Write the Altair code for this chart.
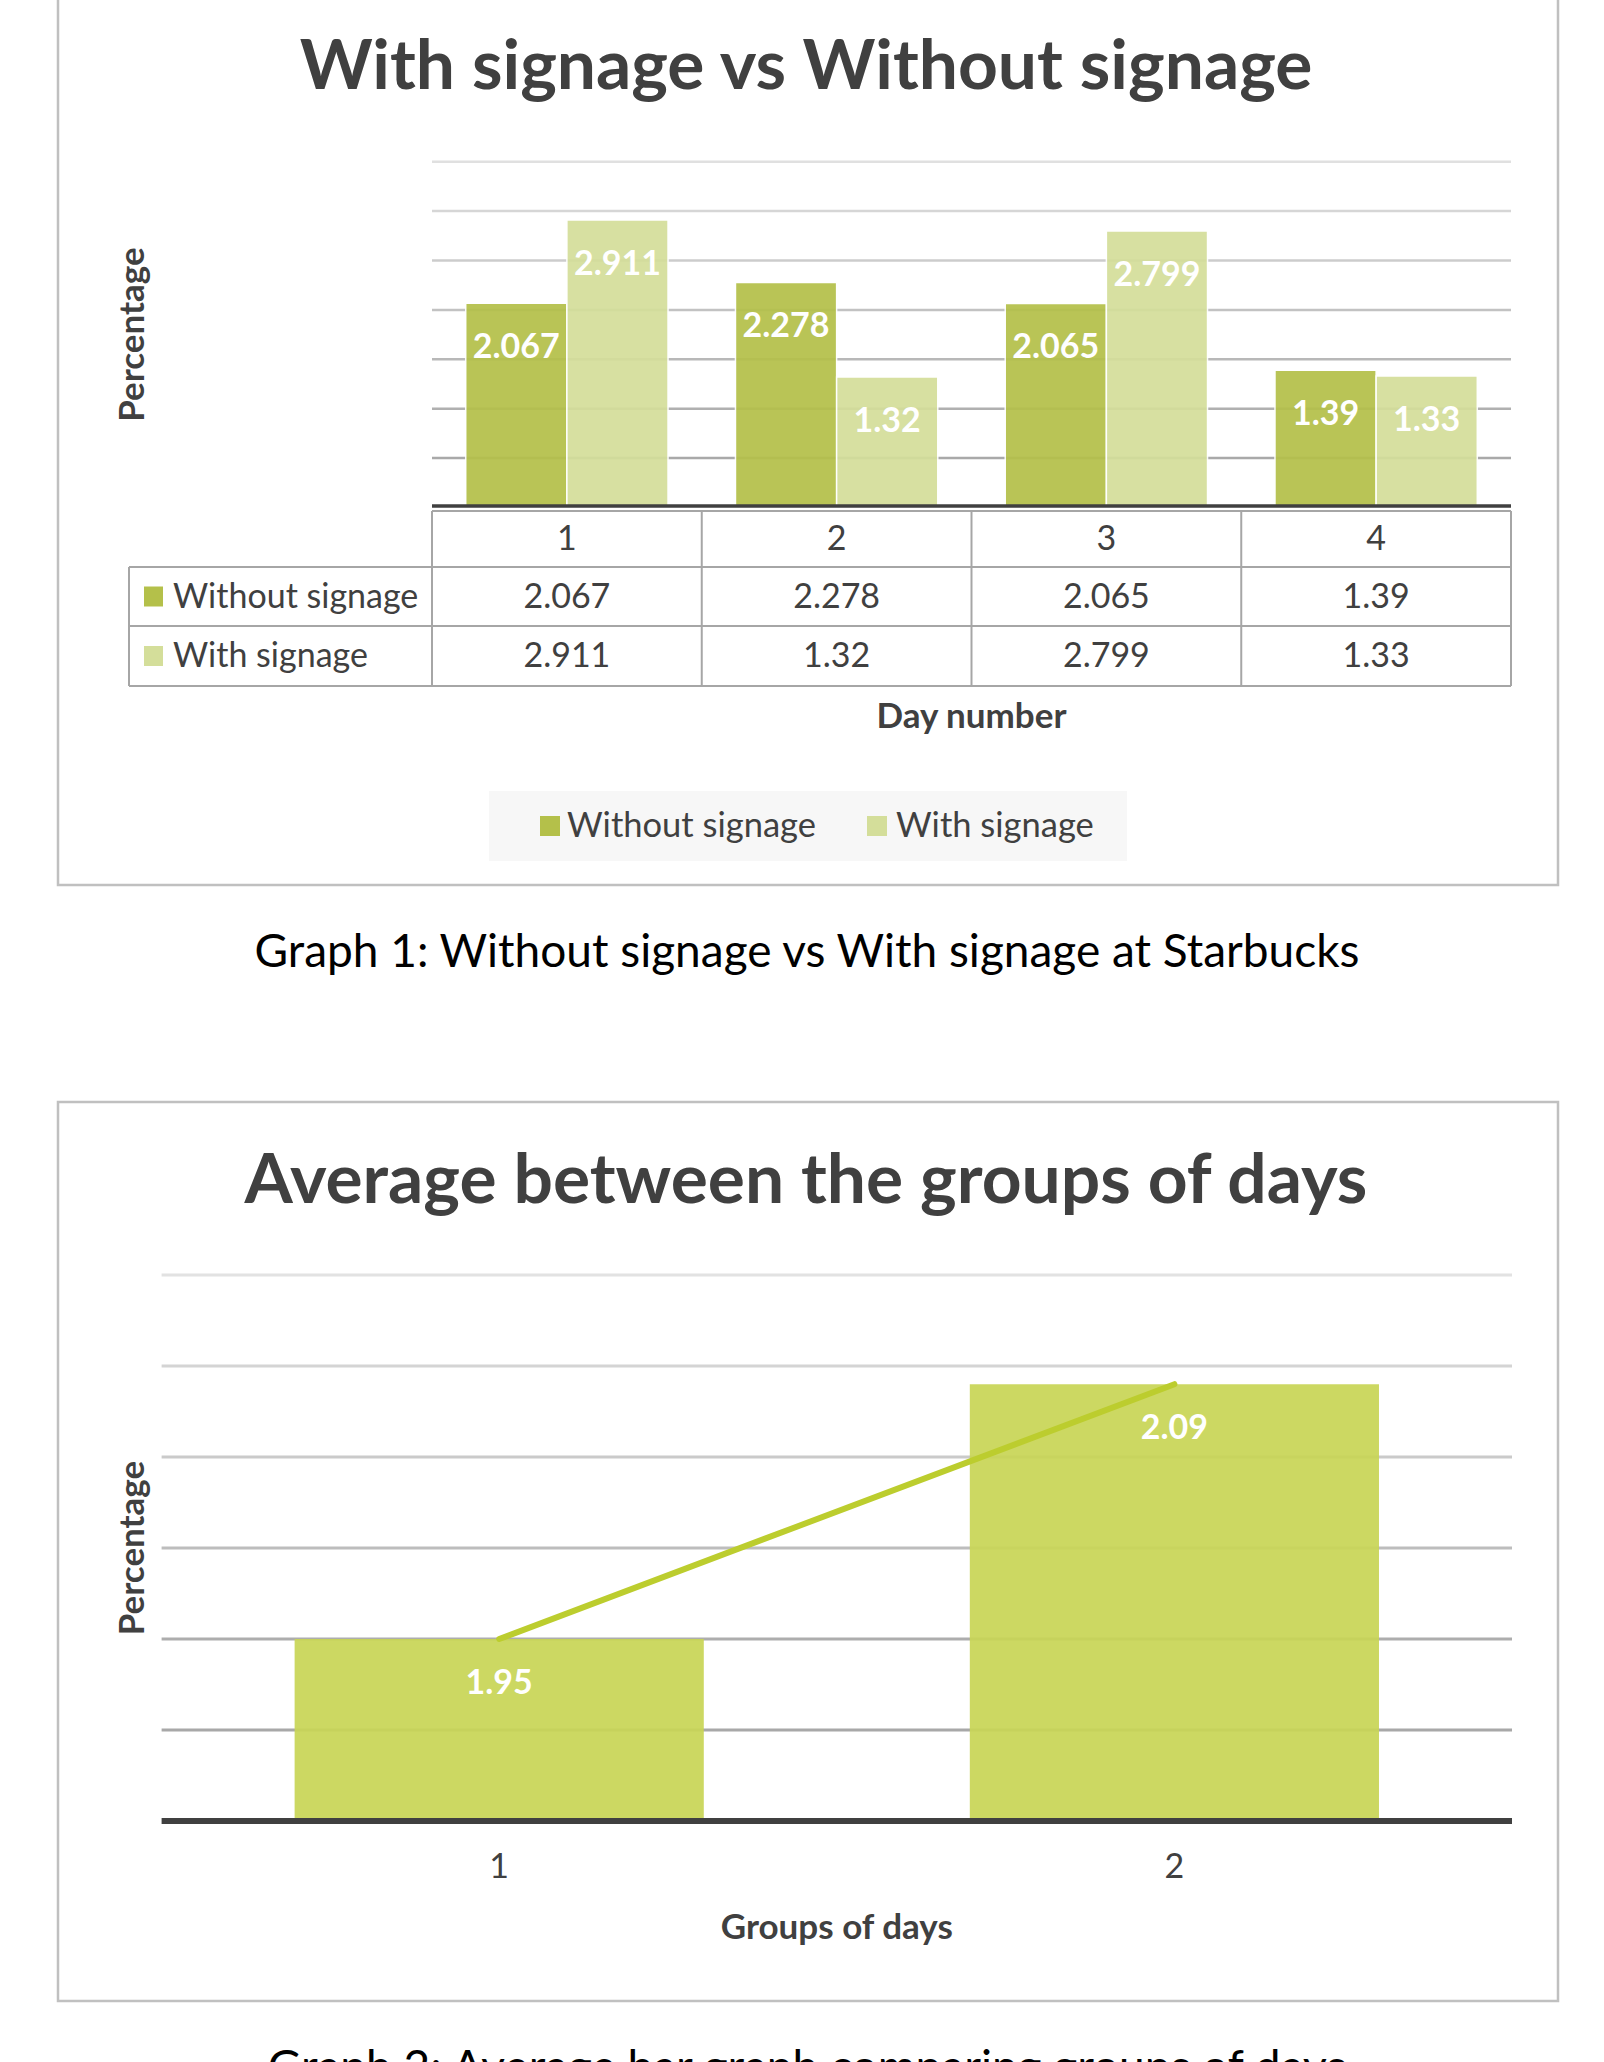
import altair as alt
import pandas as pd

# ---------------- data ----------------
days = ["1", "2", "3", "4"]
series = ["Without signage", "With signage"]
without_vals = [2.067, 2.278, 2.065, 1.39]
with_vals = [2.911, 1.32, 2.799, 1.33]
grid1 = [0.5, 1.0, 1.5, 2.0, 2.5, 3.0, 3.5]

groups = ["1", "2"]
avg_vals = [1.95, 2.09]
grid2 = [1.9, 1.95, 2.0, 2.05, 2.1, 2.15]

title1 = "With signage vs Without signage"
title2 = "Average between the groups of days"
caption1 = "Graph 1: Without signage vs With signage at Starbucks"
caption2 = "Graph 2: Average bar graph comparing groups of days"
ytitle = "Percentage"
xtitle1 = "Day number"
xtitle2 = "Groups of days"

# ---------------- styles ----------------
FONT = "Lato"
DARK = "#404040"
C_WITHOUT = "#b4c04a"
C_WITH = "#d4de9a"
C_AVG = "#c8d556"
C_LINE = "#bccd2e"
GRID_COL1 = ["#a9a9a9", "#b0b0b0", "#b8b8b8", "#c2c2c2", "#cccccc", "#d6d6d6", "#e0e0e0"]
GRID_COL2 = ["#a8a8a8", "#adadad", "#bdbdbd", "#cacaca", "#d4d4d4", "#e2e2e2"]
TABLE_LINE = "#a6a6a6"

TITLE_SIZE = 69.5
CAPTION_SIZE = 46
TABLE_SIZE = 34
LEGEND_SIZE = 34.5
AXTITLE_SIZE = 35
LABEL_SIZE = 34

# chart 1 geometry
P1L, P1R = 432, 1511
P1B, P1T = 507.5, 161.7
# chart 2 geometry
P2L, P2R = 161.6, 1512
P2B, P2T = 1821, 1275

x1 = alt.Scale(type="band", domain=days, range=[P1L, P1R], paddingInner=0.25, paddingOuter=0.125)
xo1 = alt.Scale(type="band", domain=series, paddingInner=0, paddingOuter=0)
xo1_text = alt.Scale(type="point", domain=series, padding=0.5)
y1 = alt.Scale(domain=[0, 3.5], range=[P1B, P1T], nice=False, zero=False)
c1 = alt.Scale(domain=series, range=[C_WITHOUT, C_WITH])

x2 = alt.Scale(type="band", domain=groups, range=[P2L, P2R], paddingInner=0.394, paddingOuter=0.197)
y2 = alt.Scale(domain=[1.85, 2.15], range=[P2B, P2T], nice=False, zero=False)


def one():
    return alt.Chart(pd.DataFrame({"k": [0]}))


def text_at(txt, x, y, **kw):
    return one().mark_text(text=txt, font=FONT, **kw).encode(x=alt.value(x), y=alt.value(y))


def hline(y, xa, xb, color, w):
    return one().mark_rule(color=color, strokeWidth=w).encode(
        x=alt.value(xa), x2=alt.value(xb), y=alt.value(y))


def vline(x, ya, yb, color, w):
    return one().mark_rule(color=color, strokeWidth=w).encode(
        x=alt.value(x), y=alt.value(ya), y2=alt.value(yb))


def box(xa, xb, ya, yb, **kw):
    return one().mark_rect(**kw).encode(
        x=alt.value(xa), x2=alt.value(xb), y=alt.value(ya), y2=alt.value(yb))


layers = []

# ---------------- frames ----------------
layers.append(box(58, 1558, -10, 885, fill="white", fillOpacity=0, stroke="#c0c0c0", strokeWidth=2.5))
layers.append(box(58, 1558, 1102, 2001, fill="white", fillOpacity=0, stroke="#c0c0c0", strokeWidth=2.5))

# ---------------- chart 1 ----------------
layers.append(text_at(title1, 806, 89, fontSize=TITLE_SIZE, fontWeight="bold", color=DARK,
                      align="center", baseline="alphabetic"))
layers.append(text_at(ytitle, 133, (P1B + P1T) / 2, fontSize=AXTITLE_SIZE, fontWeight="bold", color=DARK,
                      align="center", baseline="middle", angle=270))

g1 = pd.DataFrame({"g": grid1})
layers.append(alt.Chart(g1).mark_rule(strokeWidth=2.5).encode(
    y=alt.Y("g:Q", scale=y1, axis=None),
    x=alt.value(P1L), x2=alt.value(P1R),
    color=alt.Color("g:O", scale=alt.Scale(domain=grid1, range=GRID_COL1), legend=None)))

bars1 = pd.DataFrame({
    "day": days * 2,
    "series": [series[0]] * 4 + [series[1]] * 4,
    "value": without_vals + with_vals,
})
bars1["label"] = [f"{v:g}" for v in bars1["value"]]

layers.append(alt.Chart(bars1).mark_bar(opacity=0.93, stroke="white", strokeWidth=1.5, strokeOpacity=1).encode(
    x=alt.X("day:N", scale=x1, axis=None),
    xOffset=alt.XOffset("series:N", scale=xo1),
    y=alt.Y("value:Q", scale=y1, axis=None),
    y2=alt.datum(0),
    color=alt.Color("series:N", scale=c1, legend=None)))

layers.append(alt.Chart(bars1).mark_text(font=FONT, fontSize=LABEL_SIZE, fontWeight="bold", color="white",
                                        baseline="middle", align="center", dy=45).encode(
    x=alt.X("day:N", scale=x1, axis=None),
    xOffset=alt.XOffset("series:N", scale=xo1_text),
    y=alt.Y("value:Q", scale=y1, axis=None),
    text="label:N"))

# baseline
layers.append(hline(P1B - 1.5, P1L, P1R, DARK, 3.5))

# data table
ROW_T, ROW_1, ROW_2, ROW_B = 511, 567, 626, 686
TL = 129
layers.append(hline(ROW_T, P1L, P1R, TABLE_LINE, 2))
for yy in (ROW_1, ROW_2, ROW_B):
    layers.append(hline(yy, TL, P1R, TABLE_LINE, 2))
layers.append(vline(TL, ROW_1, ROW_B, TABLE_LINE, 2))
step = (P1R - P1L) / len(days)
for k in range(len(days) + 1):
    layers.append(vline(P1L + k * step, ROW_T, ROW_B, TABLE_LINE, 2))

hdr = pd.DataFrame({"day": days})
layers.append(alt.Chart(hdr).mark_text(font=FONT, fontSize=TABLE_SIZE, color=DARK, baseline="middle").encode(
    x=alt.X("day:N", scale=x1, axis=None, bandPosition=0.5), y=alt.value((ROW_T + ROW_1) / 2 + 1), text="day:N"))
for s_name, vals, (ya, yb), col in ((series[0], without_vals, (ROW_1, ROW_2), C_WITHOUT),
                                    (series[1], with_vals, (ROW_2, ROW_B), C_WITH)):
    d = pd.DataFrame({"day": days, "label": [f"{v:g}" for v in vals]})
    yc = (ya + yb) / 2
    layers.append(alt.Chart(d).mark_text(font=FONT, fontSize=TABLE_SIZE, color=DARK, baseline="middle").encode(
        x=alt.X("day:N", scale=x1, axis=None, bandPosition=0.5), y=alt.value(yc + 1), text="label:N"))
    layers.append(box(144, 163, yc - 10, yc + 10, fill=col))
    layers.append(text_at(s_name, 173, yc + 1, fontSize=TABLE_SIZE, color=DARK, align="left", baseline="middle"))

layers.append(text_at(xtitle1, (P1L + P1R) / 2, 717, fontSize=AXTITLE_SIZE, fontWeight="bold", color=DARK,
                      align="center", baseline="middle"))

# legend
layers.append(box(489, 1127, 791, 861, fill="#f7f7f7"))
layers.append(box(540, 560, 816, 836, fill=C_WITHOUT))
layers.append(text_at(series[0], 567, 827, fontSize=LEGEND_SIZE, color=DARK, align="left", baseline="middle"))
layers.append(box(867, 887, 816, 836, fill=C_WITH))
layers.append(text_at(series[1], 896, 827, fontSize=LEGEND_SIZE, color=DARK, align="left", baseline="middle"))

layers.append(text_at(caption1, 807, 967, fontSize=CAPTION_SIZE, color="black", align="center",
                      baseline="alphabetic"))

# ---------------- chart 2 ----------------
layers.append(text_at(title2, 806, 1203, fontSize=TITLE_SIZE, fontWeight="bold", color=DARK,
                      align="center", baseline="alphabetic"))
layers.append(text_at(ytitle, 133, (P2B + P2T) / 2, fontSize=AXTITLE_SIZE, fontWeight="bold", color=DARK,
                      align="center", baseline="middle", angle=270))

g2 = pd.DataFrame({"g": grid2})
layers.append(alt.Chart(g2).mark_rule(strokeWidth=3).encode(
    y=alt.Y("g:Q", scale=y2, axis=None),
    x=alt.value(P2L), x2=alt.value(P2R),
    color=alt.Color("g:O", scale=alt.Scale(domain=grid2, range=GRID_COL2), legend=None)))

avg = pd.DataFrame({"group": groups, "v": avg_vals})
avg["label"] = [f"{v:g}" for v in avg_vals]

layers.append(alt.Chart(avg).mark_bar(color=C_AVG, opacity=0.93).encode(
    x=alt.X("group:N", scale=x2, axis=None),
    y=alt.Y("v:Q", scale=y2, axis=None),
    y2=alt.datum(1.85)))

layers.append(alt.Chart(avg).mark_line(color=C_LINE, strokeWidth=6, strokeCap="round").encode(
    x=alt.X("group:N", scale=x2, axis=None, bandPosition=0.5),
    y=alt.Y("v:Q", scale=y2, axis=None)))

layers.append(alt.Chart(avg).mark_text(font=FONT, fontSize=LABEL_SIZE, fontWeight="bold", color="white",
                                      baseline="middle", dy=45).encode(
    x=alt.X("group:N", scale=x2, axis=None, bandPosition=0.5),
    y=alt.Y("v:Q", scale=y2, axis=None),
    text="label:N"))

layers.append(hline(P2B, P2L, P2R, DARK, 6))

layers.append(alt.Chart(avg).mark_text(font=FONT, fontSize=TABLE_SIZE, color=DARK, baseline="middle").encode(
    x=alt.X("group:N", scale=x2, axis=None, bandPosition=0.5), y=alt.value(1868), text="group:N"))

layers.append(text_at(xtitle2, (P2L + P2R) / 2, 1928, fontSize=AXTITLE_SIZE, fontWeight="bold", color=DARK,
                      align="center", baseline="middle"))

layers.append(text_at(caption2, 807, 2083, fontSize=CAPTION_SIZE, color="black", align="center",
                      baseline="alphabetic"))

chart = alt.layer(*layers).resolve_scale(
    x="independent", y="independent", color="independent", xOffset="independent"
).properties(
    width=1604, height=2062, autosize=alt.AutoSizeParams(type="none"), padding=0, background="white"
).configure_view(stroke=None)

chart.save("out.html", embed_options={"renderer": "svg", "actions": False})
